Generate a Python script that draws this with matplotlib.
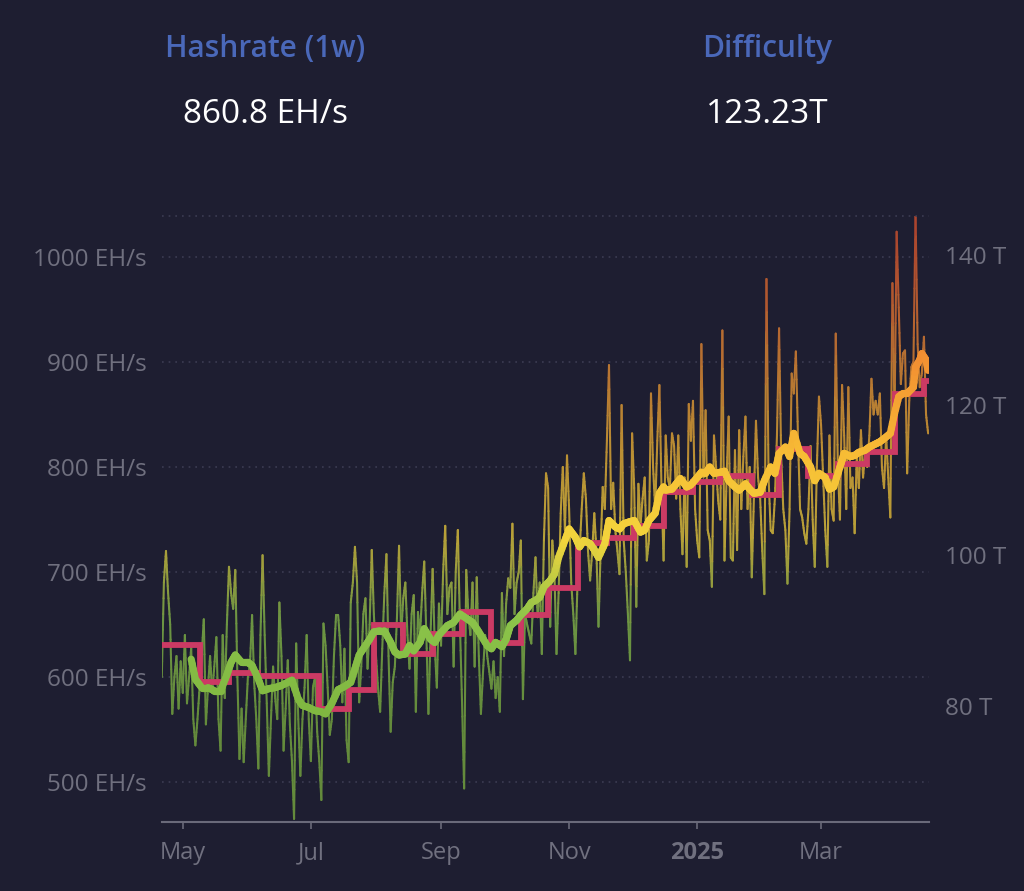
import numpy as np
import matplotlib
matplotlib.use("Agg")
import matplotlib.pyplot as plt
import matplotlib.dates as mdates
from matplotlib.collections import LineCollection
from matplotlib.colors import LinearSegmentedColormap, Normalize, to_rgb
from datetime import date, timedelta

# ---- data ----
START = date(2024, 4, 21)

# daily network hashrate, EH/s, starting at START
HASHRATE = [
    600, 690, 720, 680, 650, 565, 600, 620, 570, 615,
    585, 640, 575, 600, 628, 560, 535, 560, 590, 620,
    655, 555, 590, 620, 585, 610, 638, 560, 530, 640,
    580, 650, 705, 680, 665, 702, 600, 522, 570, 519,
    560, 600, 612, 659, 595, 560, 513, 640, 716, 640,
    575, 506, 560, 610, 580, 560, 671, 620, 530, 570,
    616, 555, 520, 465, 632, 560, 506, 560, 590, 640,
    560, 520, 590, 600, 548, 520, 483, 651, 630, 590,
    545, 560, 620, 659,
    659, 630, 576, 627, 540, 519, 671, 690, 724, 690,
    576, 610, 660, 675, 608, 650, 721, 660, 621, 589,
    567, 627, 680, 717, 620, 548, 595, 610, 656, 725,
    640, 675, 690, 640, 608, 660, 678, 567, 662, 640,
    680, 710, 640, 565, 640, 703, 630, 590, 670, 630,
    700, 744, 660, 685, 690, 610, 700, 740, 650, 576,
    494, 702, 660, 640, 690, 610, 695, 620, 565, 605,
    640, 620, 605, 589, 615, 580, 600, 567, 680, 620,
    670, 694, 685, 746, 660, 690, 700, 730, 579, 660,
    650, 641, 632, 680, 714, 657, 690, 622, 730, 794,
    780, 648, 730, 700, 622, 680, 756, 800, 740, 811,
    760, 690, 660, 622, 690, 720, 760, 794, 770, 720,
    692, 720, 756, 720, 648, 720, 781, 760, 825, 897,
    760, 785, 740, 720, 698, 859, 730, 700, 660, 616,
    832, 780, 667, 784, 745, 770, 790, 711, 730, 870,
    800, 760, 825, 878, 780, 711, 830, 790, 780, 832,
    820, 770, 830, 760, 717, 790, 705, 860, 825, 863,
    760, 730, 714, 917, 790, 854, 740, 730, 686, 830,
    800, 768, 750, 930, 711, 790, 848, 714, 711, 816,
    721, 835, 760, 810, 848, 760, 800, 695, 770, 844,
    790, 770, 720, 679, 979, 790, 740, 737, 770, 830,
    932, 810, 760, 740, 689, 760, 889, 870, 910, 830,
    760, 752, 737, 727, 760, 820, 750, 705, 800, 867,
    840, 790, 740, 705, 830, 760, 749, 927, 800, 750,
    878, 830, 760, 876, 780, 790, 737, 810, 780, 835,
    790, 815, 800, 830, 884, 850, 863, 850, 870, 800,
    780, 830, 790, 752, 975, 850, 1024, 952, 879, 908,
    911, 794, 863, 895, 900, 1040, 917, 876, 889, 924,
    850, 832,
]

# 1-week average hashrate: day offset from START, EH/s
MA_DAYS = [
    14, 16, 19, 22, 25, 28, 31, 33, 35, 38, 41, 43, 46, 48, 51, 54, 57, 60,
    62, 65, 67, 70, 73, 76, 78, 81, 84, 87, 90, 92, 94, 97, 99, 101, 104,
    106, 109, 111, 113, 116, 118, 120, 123, 125, 128, 130, 132, 136, 139,
    142, 145, 148, 151, 155, 157, 159, 162, 164, 166, 169, 171, 174, 176,
    178, 180, 182, 185, 187, 189, 192, 194, 197, 199, 201, 204, 206, 208,
    211, 213, 216, 218, 220, 223, 225, 228, 230, 232, 235, 237, 239, 240,
    243, 245, 247, 250, 252, 255, 257, 259, 261, 263, 266, 268, 270, 273,
    275, 278, 280, 282, 285, 287, 290, 292, 294, 297, 299, 301, 304, 306,
    309, 311, 313, 316, 318, 320, 323, 325, 328, 330, 332, 335, 337, 340,
    342, 344, 347, 349, 351, 353, 355, 358, 359, 361, 362, 364, 365,
]
MA_VALUES = [
    617, 598, 590, 590, 587, 587, 602, 614, 621, 614, 614, 611, 598, 587,
    589, 590, 592, 595, 597, 579, 573, 571, 568, 567, 565, 575, 588, 591,
    595, 608, 621, 630, 636, 643, 644, 644, 633, 624, 621, 622, 630, 625,
    633, 646, 636, 633, 640, 649, 652, 660, 656, 652, 643, 630, 627, 633,
    629, 636, 649, 654, 659, 665, 671, 673, 676, 686, 692, 698, 714, 730,
    741, 733, 724, 730, 727, 721, 714, 727, 749, 743, 741, 746, 748, 749,
    738, 740, 749, 756, 775, 781, 778, 779, 784, 789, 781, 783, 790, 795,
    794, 800, 794, 795, 796, 787, 781, 778, 784, 779, 775, 776, 787, 800,
    794, 813, 819, 810, 832, 813, 810, 800, 787, 794, 790, 779, 781, 800,
    813, 810, 811, 814, 816, 819, 822, 824, 827, 832, 851, 867, 870, 870,
    876, 895, 902, 908, 902, 892,
]

# difficulty adjustments (T), each holds until the next date
DIFF_DATES = [
    "2024-04-21", "2024-05-09", "2024-05-23", "2024-06-06", "2024-07-05",
    "2024-07-19", "2024-07-31", "2024-08-14", "2024-08-28", "2024-09-11",
    "2024-09-25", "2024-10-09", "2024-10-22", "2024-11-05", "2024-11-19",
    "2024-12-02", "2024-12-16", "2024-12-30", "2025-01-12", "2025-01-27",
    "2025-02-09", "2025-02-23", "2025-03-09", "2025-03-23", "2025-04-05",
    "2025-04-19", "2025-04-21",
]
DIFF_T = [
    88.1, 83.1, 84.4, 83.9, 79.6, 82.1, 90.7, 86.9, 89.5, 92.5, 88.4, 92.1,
    95.7, 101.6, 102.3, 103.9, 108.5, 109.8, 110.5, 108.1, 114.2, 110.6,
    112.2, 113.8, 121.5, 123.2, 123.2,
]

HASH_TICKS = [500, 600, 700, 800, 900, 1000]
DIFF_TICKS = [80, 100, 120, 140]
TICK_DATES = ["2024-05-01", "2024-07-01", "2024-09-01", "2024-11-01",
              "2025-01-01", "2025-03-01"]
TICK_LABELS = ["May", "Jul", "Sep", "Nov", "2025", "Mar"]

# ---- style ----
BG = "#1e1e31"
LABEL = "#70707f"
TITLE_BLUE = "#4a68b9"
DIFF_COLOR = "#cc3a64"
GRID = "#3c3c52"
EH_PER_T = 2 ** 32 / 600 / 1e6   # hashrate (EH/s) matching one T of difficulty
Y_LO, Y_HI = 462, 1039

plt.rcParams["font.family"] = ["Open Sans", "DejaVu Sans"]

CMAP = LinearSegmentedColormap.from_list("hr", [
    (0.00, "#7fb640"),
    (0.20, "#8bc34a"),
    (0.36, "#f3d43c"),
    (0.52, "#f7bd35"),
    (0.70, "#f39432"),
    (0.88, "#e8642e"),
    (1.00, "#e0502c"),
])
NORM = Normalize(vmin=560, vmax=1040)


def gradient_line(ax, x, y, lw, alpha, z, pieces=8):
    """Draw a line whose colour follows its value (vertical gradient)."""
    x = np.asarray(x, dtype=float)
    y = np.asarray(y, dtype=float)
    t = np.linspace(0, 1, pieces + 1)
    xs = x[:-1, None] + (x[1:] - x[:-1])[:, None] * t
    ys = y[:-1, None] + (y[1:] - y[:-1])[:, None] * t
    segs = []
    vals = []
    for px, py in zip(xs, ys):
        for k in range(pieces):
            segs.append([(px[k], py[k]), (px[k + 1], py[k + 1])])
            vals.append((py[k] + py[k + 1]) / 2)
    cols = CMAP(NORM(np.array(vals)))[:, :3]
    bg = np.array(to_rgb(BG))
    cols = alpha * cols + (1 - alpha) * bg
    lc = LineCollection(segs, colors=cols, linewidths=lw, zorder=z,
                        capstyle="round", joinstyle="round")
    ax.add_collection(lc)


hr_dates = [mdates.date2num(START + timedelta(days=i)) for i in range(len(HASHRATE))]
ma_dates = [mdates.date2num(START + timedelta(days=d)) for d in MA_DAYS]
diff_dates = mdates.datestr2num(DIFF_DATES)

fig = plt.figure(figsize=(10.24, 8.91), dpi=100, facecolor=BG)
ax = fig.add_axes([0.158, 0.0774, 0.749, 0.6802])
ax.set_facecolor(BG)

# raw daily hashrate
gradient_line(ax, hr_dates, HASHRATE, lw=1.5, alpha=0.72, z=2, pieces=6)

x0 = mdates.date2num(START)
ax.set_xlim(x0, x0 + 365.3)
ax.set_ylim(Y_LO, Y_HI)
ax.set_yticks(HASH_TICKS)
ax.set_yticklabels([f"{v} EH/s" for v in HASH_TICKS])
ax.grid(True, axis="y", color=GRID, linestyle=(0, (1, 3)), lw=1.2)
ax.axhline(Y_HI, color=GRID, linestyle=(0, (1, 3)), lw=1.2, clip_on=False)
ax.set_axisbelow(True)

ax.set_xticks(mdates.datestr2num(TICK_DATES))
ax.set_xticklabels(TICK_LABELS)
for lbl in ax.get_xticklabels():
    if lbl.get_text().isdigit():
        lbl.set_fontweight("bold")
ax.tick_params(axis="x", colors="#6a6a7a", labelcolor=LABEL, length=5,
               width=1.2, pad=9, labelsize=17)
ax.tick_params(axis="y", length=0, pad=11, labelcolor=LABEL, labelsize=17.5)
for side in ["top", "left", "right"]:
    ax.spines[side].set_visible(False)
ax.spines["bottom"].set_color("#6a6a7a")
ax.spines["bottom"].set_linewidth(1.5)

# difficulty, right axis
ax2 = ax.twinx()
ax2.step(diff_dates, DIFF_T, where="post", color=DIFF_COLOR, lw=4.2,
         solid_joinstyle="miter", zorder=3)
ax2.set_ylim(Y_LO / EH_PER_T, Y_HI / EH_PER_T)
ax2.set_yticks(DIFF_TICKS)
ax2.set_yticklabels([f"{v} T" for v in DIFF_TICKS])
ax2.tick_params(axis="y", length=0, pad=12, labelcolor=LABEL, labelsize=17.5)
for s in ax2.spines.values():
    s.set_visible(False)

# 1w average on top, same scale as left axis
ax3 = ax.twinx()
ax3.set_ylim(Y_LO, Y_HI)
ax3.set_xlim(ax.get_xlim())
gradient_line(ax3, ma_dates, MA_VALUES, lw=5.2, alpha=1.0, z=4, pieces=4)
ax3.set_yticks([])
for s in ax3.spines.values():
    s.set_visible(False)

# header
fig.text(0.259, 0.945, "Hashrate (1w)", color=TITLE_BLUE, fontsize=21.5,
         fontweight="semibold", ha="center", va="center")
fig.text(0.259, 0.872, "860.8 EH/s", color="white", fontsize=24,
         ha="center", va="center")
fig.text(0.749, 0.945, "Difficulty", color=TITLE_BLUE, fontsize=21.5,
         fontweight="semibold", ha="center", va="center")
fig.text(0.749, 0.872, "123.23T", color="white", fontsize=24,
         ha="center", va="center")

fig.savefig("out.png", dpi=100, facecolor=BG)
